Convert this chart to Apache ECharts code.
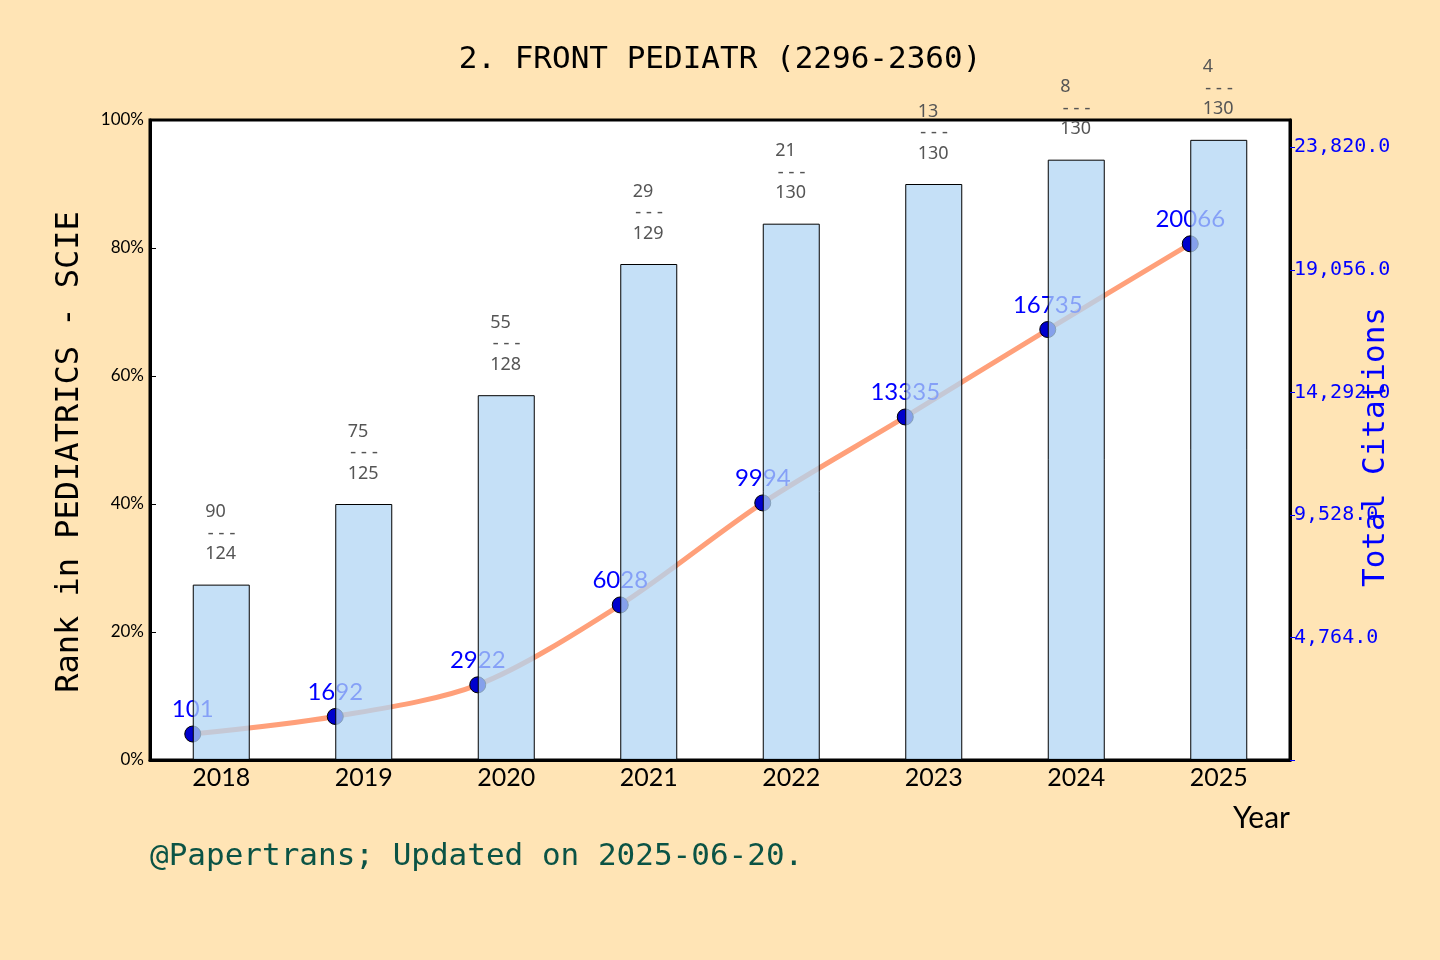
<!DOCTYPE html>
<html>
<head>
<meta charset="utf-8">
<script src="https://cdn.jsdelivr.net/npm/echarts@6/dist/echarts.min.js"></script>
<style>
  html, body { margin: 0; padding: 0; background: #ffe4b5; }
  #chart-container { width: 1440px; height: 960px; }
</style>
</head>
<body>
<div id="chart-container"></div>
<script>
// data
const years = ["2018", "2019", "2020", "2021", "2022", "2023", "2024", "2025"];
const ranks = [90, 75, 55, 29, 21, 13, 8, 4];
const totals = [124, 125, 128, 129, 130, 130, 130, 130];
const rankPercent = [27.4, 40.0, 57.0, 77.5, 83.8, 90.0, 93.8, 96.9]; // bar heights, %
const citations = [1010, 1692, 2922, 6028, 9994, 13335, 16735, 20066]; // plotted values
const citationLabels = ["101", "1692", "2922", "6028", "9994", "13335", "16735", "20066"];
const citeTicks = { interval: 4764, max: 24880 };

const mono = "DejaVu Sans Mono";
const sans = "Lato";

const chart = echarts.init(document.getElementById("chart-container"));

const option = {
  backgroundColor: "#ffe4b5",
  animation: false,
  title: {
    text: "2. FRONT PEDIATR (2296-2360)",
    left: "center",
    top: 39,
    textStyle: { fontFamily: mono, fontSize: 31, fontWeight: "normal", color: "#000" },
  },
  graphic: [
    {
      type: "text",
      left: 150,
      top: 841,
      style: {
        text: "@Papertrans; Updated on 2025-06-20.",
        font: "31px '" + mono + "'",
        fill: "#0b5345",
      },
    },
  ],
  grid: {
    left: 150,
    right: 150,
    top: 120,
    bottom: 200,
    show: true,
    backgroundColor: "#fff",
    borderColor: "#000",
    borderWidth: 3,
  },
  xAxis: [
    {
      type: "category",
      data: years,
      name: "Year",
      nameLocation: "end",
      nameGap: 0,
      nameMoveOverlap: false,
      nameTextStyle: {
        fontFamily: sans, fontSize: 30, color: "#000",
        align: "right", verticalAlign: "top", padding: [43, 0, 0, 0],
      },
      axisLine: { onZero: false, lineStyle: { color: "#000", width: 3 } },
      axisTick: { inside: true, length: 5, lineStyle: { color: "#000" } },
      axisLabel: { fontFamily: sans, fontSize: 25, color: "#000", margin: 5 },
      splitLine: { show: false },
    },
    {
      // hidden value axis so the line sits at the left edge of each bar
      type: "value",
      min: -0.5,
      max: 7.5,
      show: false,
    },
  ],
  yAxis: [
    {
      type: "value",
      min: 0,
      max: 100,
      interval: 20,
      name: "Rank in PEDIATRICS - SCIE",
      nameLocation: "middle",
      nameGap: 64,
      nameMoveOverlap: false,
      nameTextStyle: { fontFamily: mono, fontSize: 32, color: "#000", padding: [0, 24, 0, 0] },
      axisLine: { show: true, onZero: false, lineStyle: { color: "#000", width: 3 } },
      axisTick: { show: true, inside: true, length: 6, lineStyle: { color: "#000" } },
      axisLabel: { fontFamily: sans, fontSize: 17, color: "#000", margin: 6, formatter: "{value}%" },
      splitLine: { show: false },
    },
    {
      type: "value",
      min: 0,
      max: citeTicks.max,
      interval: citeTicks.interval,
      position: "right",
      name: "Total Citations",
      nameLocation: "middle",
      nameGap: 70,
      nameRotate: 90,
      nameMoveOverlap: false,
      nameTextStyle: { fontFamily: mono, fontSize: 31, color: "#0000ff", padding: [0, 14, 0, 0] },
      axisLine: { show: true, onZero: false, lineStyle: { color: "#000", width: 3 } },
      axisTick: { show: true, length: 5, lineStyle: { color: "#0000ff" } },
      axisLabel: {
        fontFamily: mono, fontSize: 20, color: "#0000ff", margin: 4,
        showMaxLabel: false,
        formatter: (v) => (v === 0 ? "" : v.toLocaleString("en-US", { minimumFractionDigits: 1, maximumFractionDigits: 1 })),
      },
      splitLine: { show: false },
    },
  ],
  series: [
    {
      type: "line",
      xAxisIndex: 1,
      yAxisIndex: 1,
      z: 2,
      smooth: 0.3,
      data: citations.map((v, i) => [i - 0.2, v]),
      lineStyle: { color: "#ffa07a", width: 5 },
      symbol: "circle",
      symbolSize: 16,
      itemStyle: { color: "#0000cd", borderColor: "#000", borderWidth: 1 },
      label: {
        show: true,
        position: "top",
        distance: 4,
        fontFamily: sans,
        fontSize: 24,
        color: "#0000ff",
        formatter: (p) => citationLabels[p.dataIndex],
      },
    },
    {
      type: "bar",
      xAxisIndex: 0,
      yAxisIndex: 0,
      z: 3,
      barWidth: 57,
      data: rankPercent,
      itemStyle: { color: "rgba(178, 214, 244, 0.75)", borderColor: "#000", borderWidth: 1 },
      label: {
        show: true,
        position: "top",
        distance: 20,
        align: "left",
        offset: [-16, 0],
        fontFamily: "Noto Sans",
        fontSize: 18,
        lineHeight: 21,
        color: "#555",
        formatter: (p) => ranks[p.dataIndex] + "\n{d|---}\n" + totals[p.dataIndex],
        rich: {
          d: { fontFamily: mono, fontSize: 18, lineHeight: 21, color: "#555" },
        },
      },
    },
  ],
};

chart.setOption(option);
</script>
</body>
</html>
